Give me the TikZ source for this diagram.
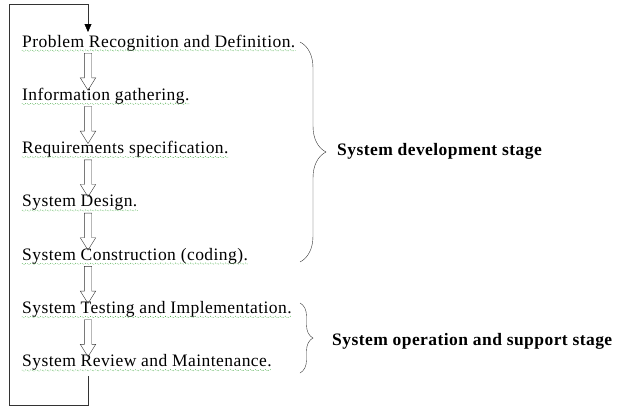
\documentclass[tikz,border=0pt]{standalone}
\usepackage{fontspec}
\setmainfont{Liberation Serif}
\newfontfamily\stepfont{Liberation Serif}[LetterSpace=2.5]
\usepackage{tikz}
\usetikzlibrary{positioning}
\usetikzlibrary{arrows.meta,shapes.arrows,decorations.pathreplacing,decorations.pathmorphing}

\begin{document}
\begin{tikzpicture}[x=1pt, y=-1pt,
stepnode/.style={inner sep=0pt, anchor=base west, font=\stepfont\fontsize{17.5}{20}\selectfont},
stagenode/.style={inner sep=0pt, anchor=base west, font=\stepfont\bfseries\fontsize{17.5}{20}\selectfont},
hollowarrow/.style={single arrow, draw=black!80, thin, inner sep=3.5pt, minimum height=37pt, single arrow head extend=4pt, single arrow tip angle=64, rotate=-90, anchor=tail},
squiggle/.style={draw=green!55!black, line width=0.5pt, dotted, decorate, decoration={snake, amplitude=0.7pt, segment length=2.5pt}},
stagebrace/.style={draw=black!80, thin, decorate},
loopline/.style={draw=black!80, thin, -{Triangle[width=7pt, length=8pt, black]}},
]
\useasboundingbox (0,0) rectangle (619,407);
%Nodes
\node[stepnode]        (first)       at (22,47)                               {Problem Recognition and Definition.};
\node[stepnode]        (second)      [below=53.3pt of first.base west, stepnode]   {Information gathering.};
\node[stepnode]        (third)       [below=53.3pt of second.base west, stepnode]  {Requirements specification.};
\node[stepnode]        (fourth)      [below=53.3pt of third.base west, stepnode]   {System Design.};
\node[stepnode]        (fifth)       [below=53.3pt of fourth.base west, stepnode]  {System Construction (coding).};
\node[stepnode]        (sixth)       [below=53.3pt of fifth.base west, stepnode]   {System Testing and Implementation.};
\node[stepnode]        (seventh)     [below=53.3pt of sixth.base west, stepnode]   {System Review and Maintenance.};
%Squiggles
\foreach \n in {first,second,third,fourth,fifth,sixth,seventh}
  \draw[squiggle] ([yshift=-3.5pt]\n.base west) -- ([yshift=-3.5pt]\n.base east);
%Arrows
\foreach \n in {first,second,third,fourth,fifth,sixth}
  \node[hollowarrow] at ([xshift=66pt, yshift=-6pt]\n.base west) {};
\coordinate (loopstart) at ([xshift=66pt, yshift=-9pt]seventh.base west);
\coordinate (loopend)   at ([xshift=66pt, yshift=15pt]first.base west);
\draw[loopline] (loopstart) -- ++(0,29) -| (9.5,4) -| (loopend);
%Braces
\draw[stagebrace, decoration={brace, amplitude=26pt}] (300,42) -- (300,262);
\draw[stagebrace, decoration={brace, amplitude=13pt}] (300,303) -- (300,373);
%Text
\node[stagenode] (devstage) at (337,155) {System development stage};
\node[stagenode] (opstage)  at (332,345) {System operation and support stage};

\end{tikzpicture}
\end{document}
